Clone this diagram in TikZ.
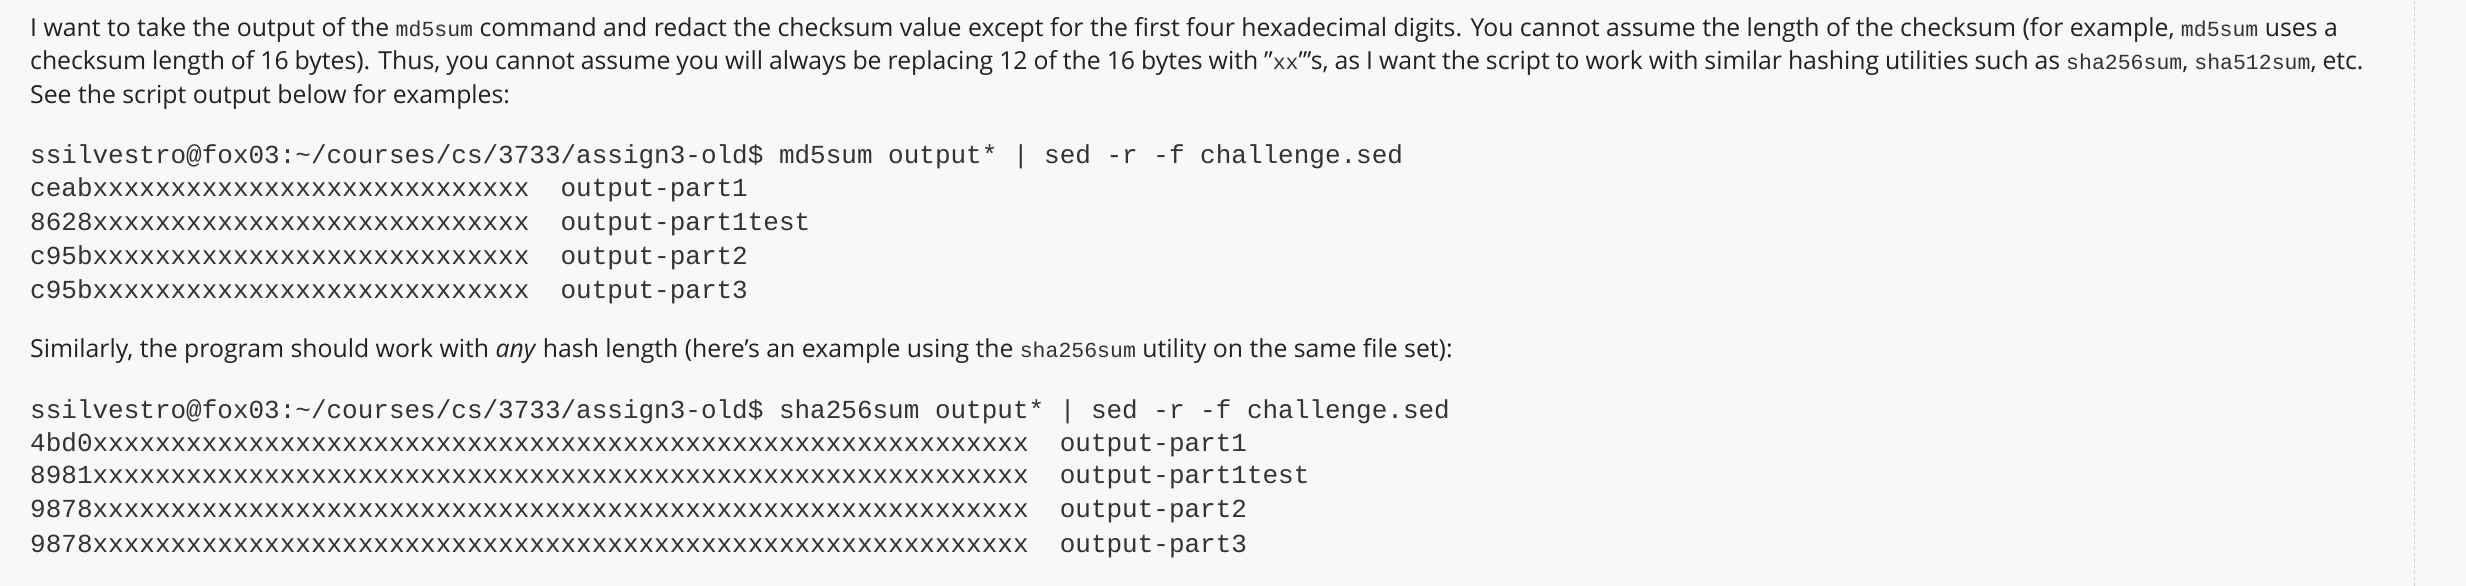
\documentclass[tikz,border=0pt]{standalone}
\usepackage{fontspec}
\setmainfont{Open Sans}
\setmonofont{Liberation Mono}
\definecolor{bg}{HTML}{F8F8F8}
\definecolor{txt}{HTML}{222222}
\definecolor{code}{HTML}{333333}
\newcommand{\cc}[1]{{\fontsize{21.5}{24}\ttfamily\color{code}#1}}
\newcommand{\sq}{\symbol{39}}
\newcommand{\dq}{\symbol{34}}
\begin{document}
\begin{tikzpicture}[x=1pt,y=1pt,
  para/.style={anchor=west,inner sep=0pt,text=txt,font=\fontsize{24.8}{28}\selectfont},
  codeline/.style={anchor=west,inner sep=0pt,text=code,font=\fontsize{26}{28}\ttfamily}]
\fill[bg] (0,0) rectangle (2466,586);
\useasboundingbox (0,0) rectangle (2466,586);
\draw[gray!40,dashed,line width=1pt] (2414,0) -- (2414,586);
\node[para] (p1) at (30,556) {I want to take the output of the \cc{md5sum} command and redact the checksum value except for the first four hexadecimal digits. You cannot assume the length of the checksum (for example, \cc{md5sum} uses a};
\node[para] (p2) at (30,523) {\spaceskip=0.24em checksum length of 16 bytes). Thus, you cannot assume you will always be replacing 12 of the 16 bytes with \dq\cc{xx}\dq\sq s, as I want the script to work with similar hashing utilities such as \cc{sha256sum}, \cc{sha512sum}, etc.};
\node[para] (p3) at (30,489) {See the script output below for examples:};
\node[codeline] (a0) at (30,429) {ssilvestro@fox03:\textasciitilde/courses/cs/3733/assign3-old\$ md5sum output* | sed -r -f challenge.sed};
\node[codeline] (a1) at (30,396) {ceabxxxxxxxxxxxxxxxxxxxxxxxxxxxx\ \ output-part1};
\node[codeline] (a2) at (30,361) {8628xxxxxxxxxxxxxxxxxxxxxxxxxxxx\ \ output-part1test};
\node[codeline] (a3) at (30,328) {c95bxxxxxxxxxxxxxxxxxxxxxxxxxxxx\ \ output-part2};
\node[codeline] (a4) at (30,294) {c95bxxxxxxxxxxxxxxxxxxxxxxxxxxxx\ \ output-part3};
\node[para] (p4) at (30,235) {Similarly, the program should work with \textit{any} hash length (here\sq s an example using the \cc{sha256sum} utility on the same file set):};
\node[codeline] (b0) at (30,174) {ssilvestro@fox03:\textasciitilde/courses/cs/3733/assign3-old\$ sha256sum output* | sed -r -f challenge.sed};
\node[codeline] (b1) at (30,141) {4bd0xxxxxxxxxxxxxxxxxxxxxxxxxxxxxxxxxxxxxxxxxxxxxxxxxxxxxxxxxxxx\ \ output-part1};
\node[codeline] (b2) at (30,108) {8981xxxxxxxxxxxxxxxxxxxxxxxxxxxxxxxxxxxxxxxxxxxxxxxxxxxxxxxxxxxx\ \ output-part1test};
\node[codeline] (b3) at (30,74) {9878xxxxxxxxxxxxxxxxxxxxxxxxxxxxxxxxxxxxxxxxxxxxxxxxxxxxxxxxxxxx\ \ output-part2};
\node[codeline] (b4) at (30,39) {9878xxxxxxxxxxxxxxxxxxxxxxxxxxxxxxxxxxxxxxxxxxxxxxxxxxxxxxxxxxxx\ \ output-part3};
\end{tikzpicture}
\end{document}
